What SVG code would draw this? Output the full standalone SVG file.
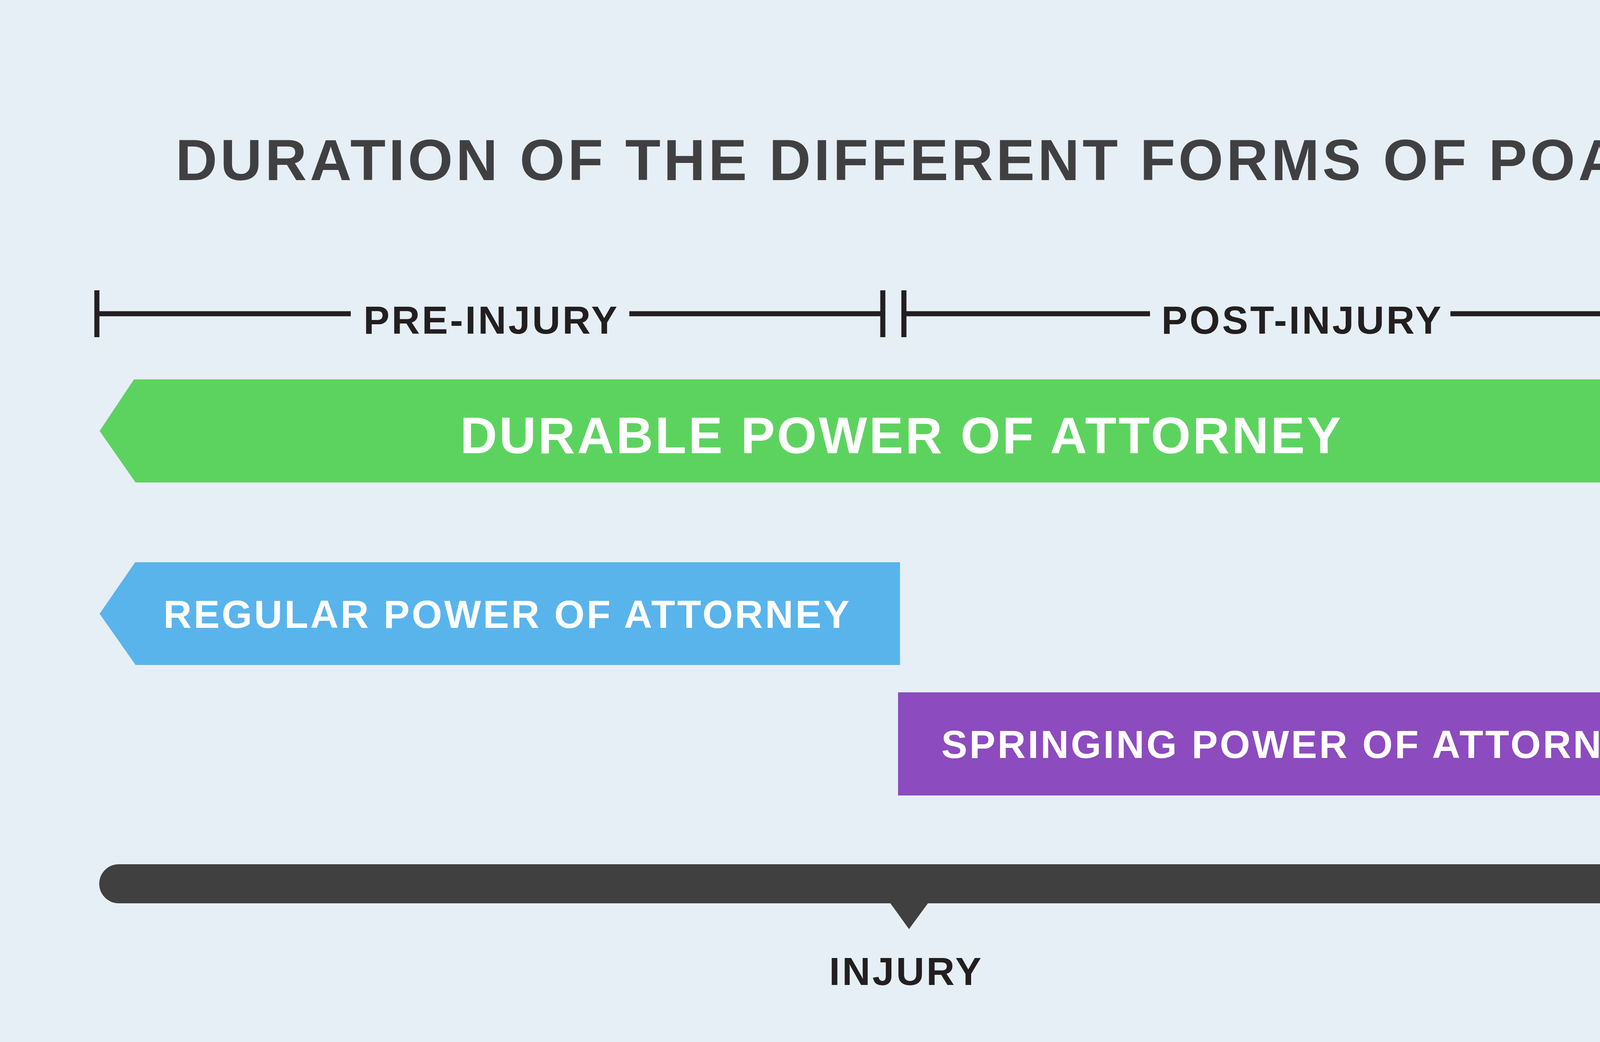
<svg xmlns="http://www.w3.org/2000/svg" width="4596" height="2667" viewBox="0 0 4596 2667">
  <style>
    .t { font-family: "Liberation Sans", Arial, sans-serif; font-weight: bold; }
    .title { font-size: 148px; fill: #404042; letter-spacing: 7.8px; }
    .period { font-size: 100px; fill: #231f20; letter-spacing: 5.3px; }
    .lbl { fill: #ffffff; letter-spacing: 5.2px; }
    .tick { stroke: #231f20; stroke-width: 13; fill: none; }
  </style>
  <rect id="background" x="0" y="0" width="4596" height="2667" fill="#e6eff5"/>
  <text id="title" class="t title" x="2302" y="461" text-anchor="middle">DURATION OF THE DIFFERENT FORMS OF POA</text>

  <g id="connectors">
    <g id="pre-injury-span">
      <line class="tick" x1="248" y1="743" x2="248" y2="863"/>
      <line class="tick" x1="2260" y1="743" x2="2260" y2="863"/>
      <line class="tick" x1="248" y1="803" x2="898" y2="803"/>
      <line class="tick" x1="1611" y1="803" x2="2260" y2="803"/>
    </g>
    <g id="post-injury-span">
      <line class="tick" x1="2314" y1="743" x2="2314" y2="863"/>
      <line class="tick" x1="4342" y1="743" x2="4342" y2="863"/>
      <line class="tick" x1="2314" y1="803" x2="2944" y2="803"/>
      <line class="tick" x1="3713" y1="803" x2="4342" y2="803"/>
    </g>
  </g>

  <g id="pre-injury-label">
    <text class="t period" x="1258" y="854" text-anchor="middle">PRE-INJURY</text>
  </g>
  <g id="post-injury-label">
    <text class="t period" x="3334" y="854" text-anchor="middle">POST-INJURY</text>
  </g>

  <g id="durable">
    <polygon points="343,971 4259,971 4348,1103 4256,1235 347,1235 255,1103" fill="#5dd35f"/>
    <text class="t lbl" x="2308" y="1160" font-size="131" letter-spacing="8.4" text-anchor="middle">DURABLE POWER OF ATTORNEY</text>
  </g>

  <g id="regular">
    <polygon points="346,1439 2304,1439 2304,1702 347,1702 255,1571" fill="#59b4ec"/>
    <text class="t lbl" x="1299" y="1607" font-size="100" text-anchor="middle">REGULAR POWER OF ATTORNEY</text>
  </g>

  <g id="springing">
    <polygon points="2299,1772 4259,1772 4348,1904 4256,2036 2299,2036" fill="#8c4bbf"/>
    <text class="t lbl" x="3329" y="1940" font-size="100" text-anchor="middle">SPRINGING POWER OF ATTORNEY</text>
  </g>

  <g id="timeline">
    <rect x="254" y="2212" width="4093" height="100" rx="50" ry="50" fill="#404040"/>
    <polygon points="2278,2310 2377,2310 2327,2378" fill="#404040"/>
  </g>

  <g id="injury">
    <text class="t period" x="2320" y="2521" text-anchor="middle">INJURY</text>
  </g>
</svg>
